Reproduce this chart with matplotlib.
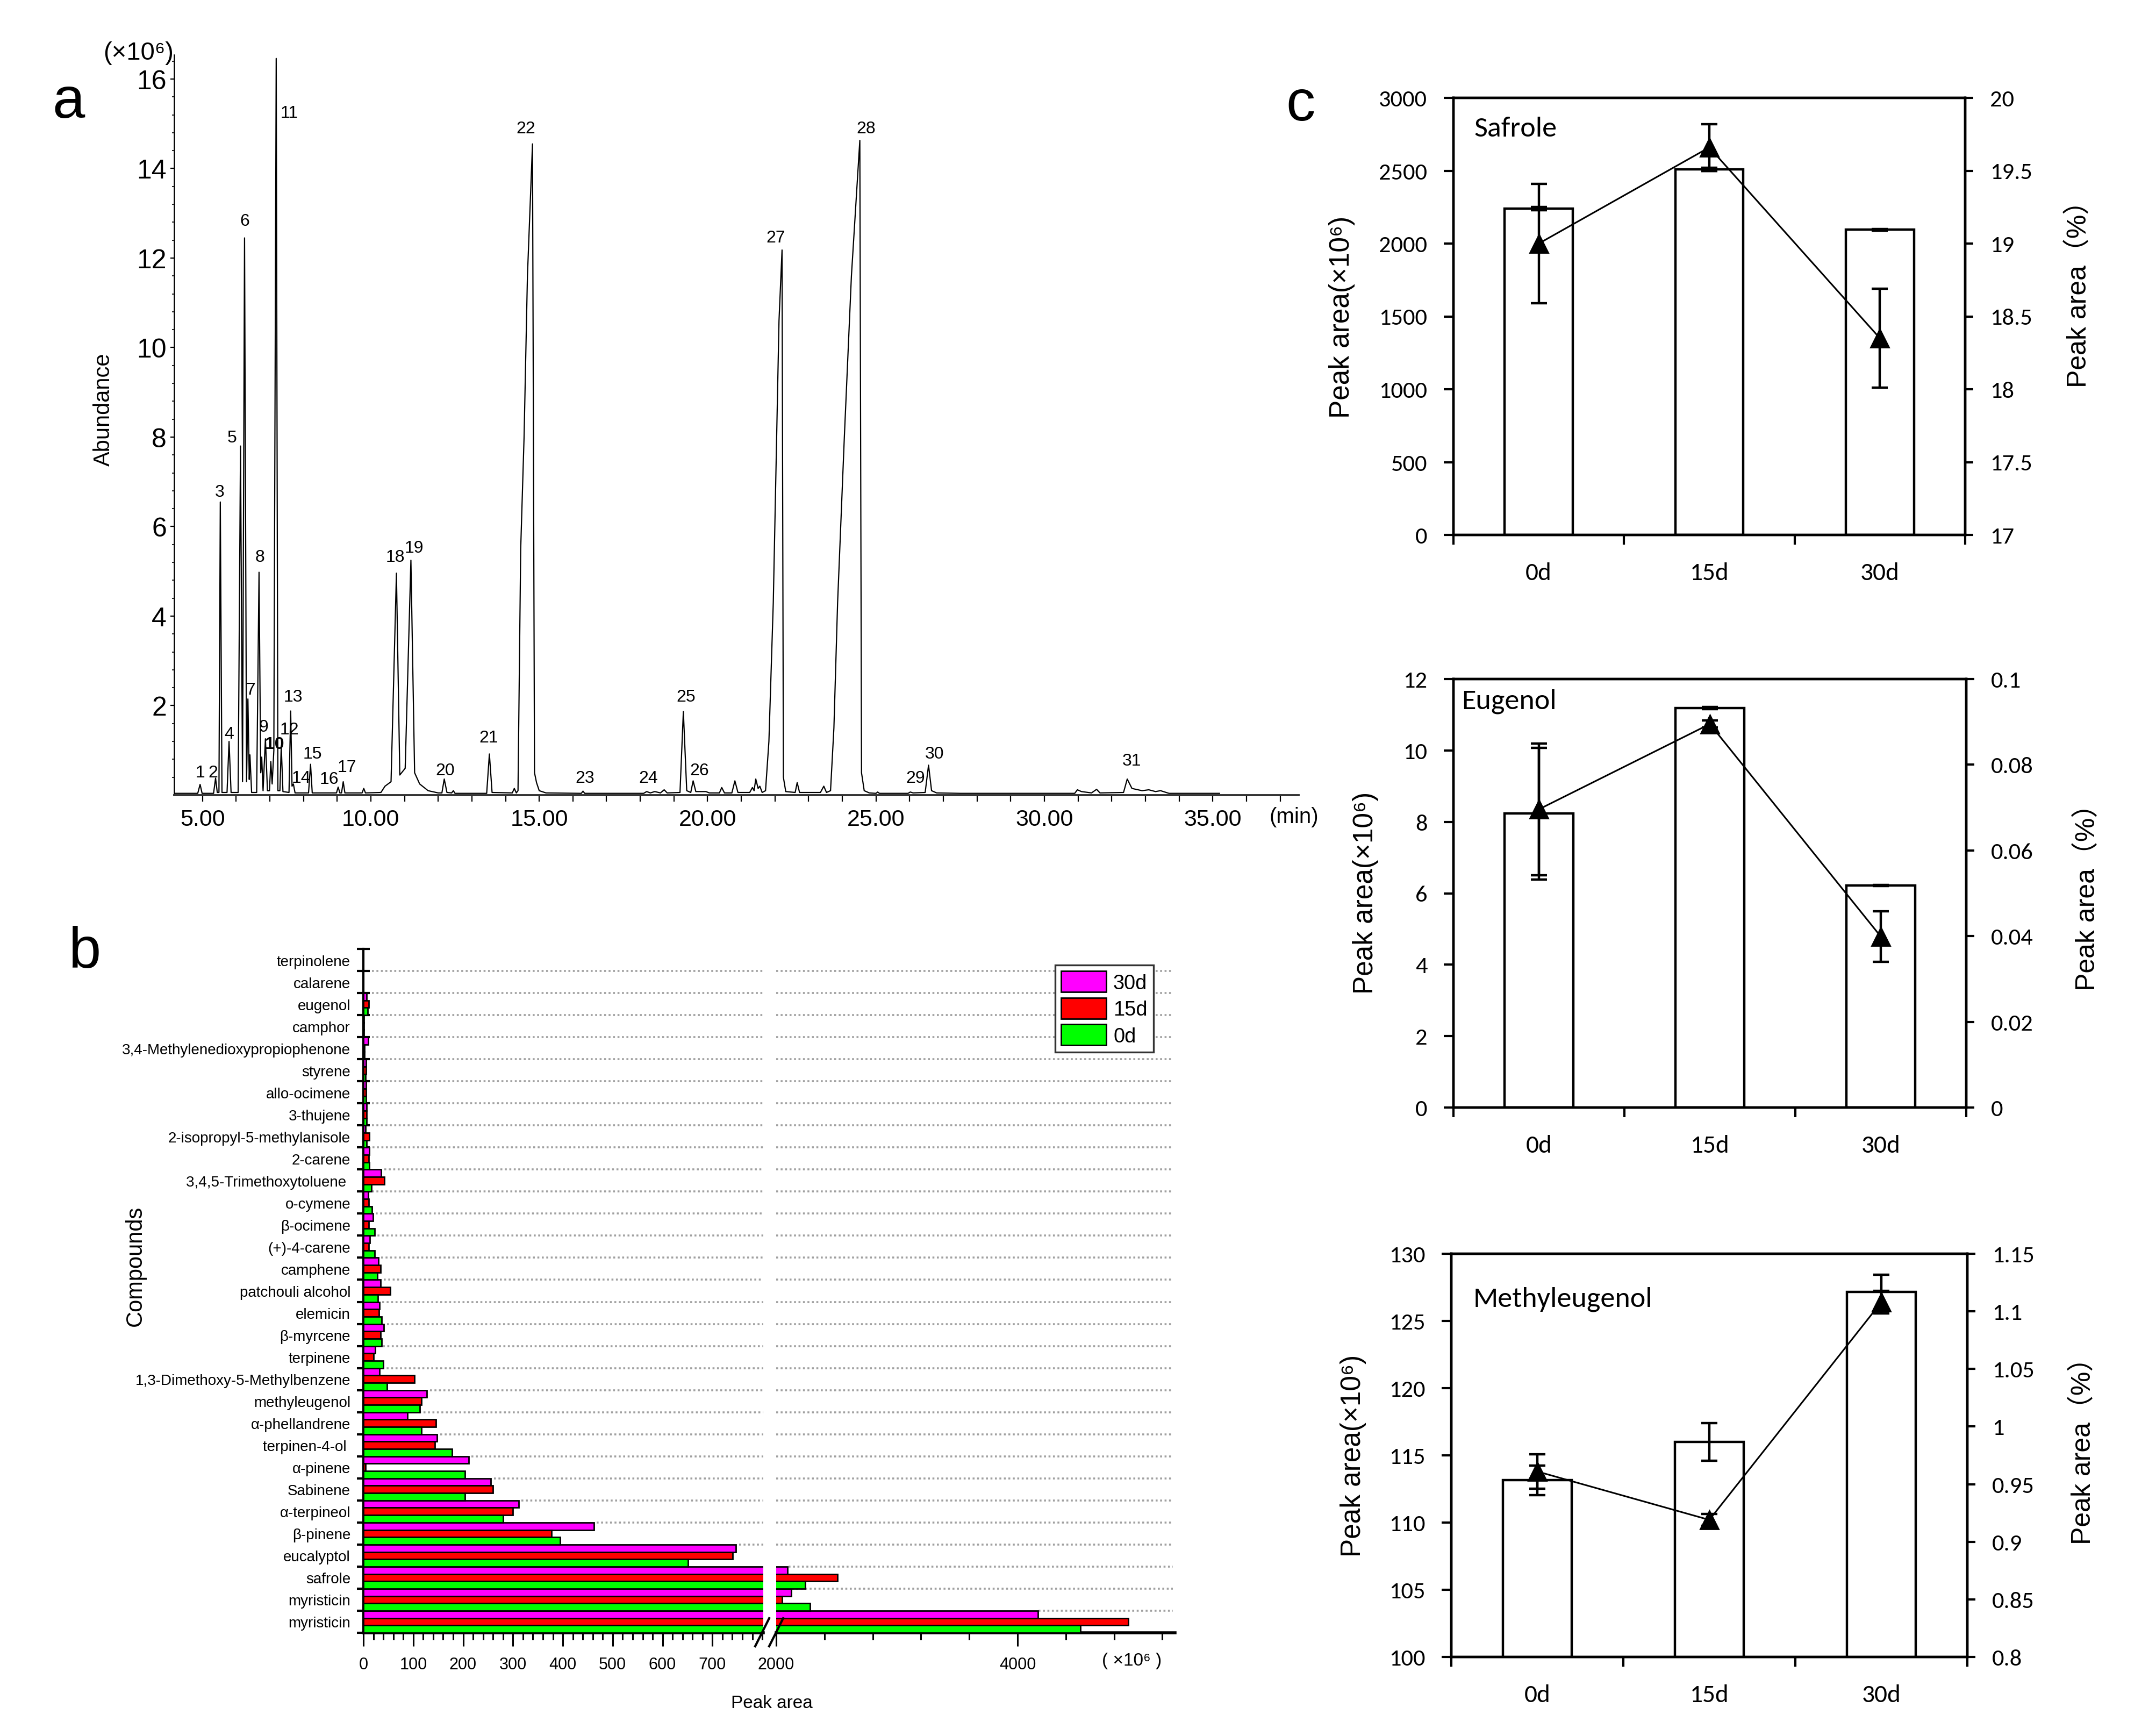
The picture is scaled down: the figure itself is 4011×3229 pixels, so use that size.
import numpy as np
import matplotlib
matplotlib.use('Agg')
import matplotlib.pyplot as plt
from matplotlib import font_manager
from matplotlib.lines import Line2D
from matplotlib.patches import Patch

# ---- a: chromatogram, vertices (min, abundance x10^6)
trace_min = [4.16, 4.86, 4.93, 4.99, 5.33, 5.39, 5.44, 5.49, 5.53, 5.58,
             5.73, 5.79, 5.85, 6.06, 6.13, 6.19, 6.25, 6.31, 6.35, 6.39,
             6.41, 6.46, 6.61, 6.68, 6.73, 6.76, 6.80, 6.87, 6.93, 6.99,
             7.03, 7.07, 7.12, 7.19, 7.24, 7.30, 7.34, 7.39, 7.57, 7.62,
             7.66, 7.70, 7.75, 8.15, 8.21, 8.26, 8.98, 9.03, 9.08, 9.13,
             9.18, 9.23, 9.74, 9.79, 9.84, 10.30, 10.42, 10.60, 10.76, 10.86,
             11.02, 11.19, 11.30, 11.45, 11.70, 12.00, 12.11, 12.18, 12.26, 12.40,
             12.45, 12.50, 13.44, 13.52, 13.60, 14.20, 14.26, 14.32, 14.37, 14.45,
             14.55, 14.65, 14.80, 14.86, 14.92, 15.00, 15.20, 16.25, 16.30, 16.35,
             18.10, 18.19, 18.30, 18.43, 18.60, 18.71, 18.80, 19.18, 19.28, 19.38,
             19.50, 19.57, 19.65, 19.95, 20.05, 20.35, 20.42, 20.50, 20.72, 20.81,
             20.90, 21.25, 21.33, 21.38, 21.43, 21.50, 21.55, 21.62, 21.72, 21.82,
             21.95, 22.05, 22.12, 22.21, 22.25, 22.32, 22.60, 22.66, 22.73, 23.35,
             23.45, 23.53, 23.65, 23.75, 23.86, 24.06, 24.27, 24.52, 24.57, 24.65,
             24.80, 25.00, 25.05, 25.10, 25.95, 26.02, 26.10, 26.46, 26.56, 26.65,
             26.80, 27.50, 30.90, 30.98, 31.10, 31.40, 31.55, 31.65, 32.35, 32.46,
             32.60, 32.90, 33.10, 33.30, 33.45, 33.70, 35.20]
trace_abund = [0.04, 0.04, 0.24, 0.04, 0.04, 0.38, 0.06, 0.06, 6.55, 0.06,
               0.06, 1.20, 0.06, 0.06, 7.80, 0.30, 12.45, 0.30, 2.15, 0.35,
               0.90, 0.06, 0.06, 4.98, 0.50, 0.85, 0.10, 1.26, 0.10, 0.10,
               0.75, 0.25, 1.00, 16.46, 0.10, 0.10, 1.10, 0.08, 0.06, 1.88,
               0.20, 0.25, 0.05, 0.05, 0.69, 0.05, 0.05, 0.18, 0.05, 0.05,
               0.30, 0.05, 0.05, 0.15, 0.05, 0.06, 0.20, 0.30, 4.96, 0.45,
               0.60, 5.25, 0.50, 0.25, 0.10, 0.05, 0.05, 0.36, 0.06, 0.05,
               0.10, 0.04, 0.04, 0.92, 0.06, 0.05, 0.15, 0.05, 0.10, 5.50,
               8.00, 11.60, 14.55, 0.50, 0.28, 0.10, 0.05, 0.04, 0.09, 0.04,
               0.04, 0.08, 0.05, 0.08, 0.05, 0.12, 0.05, 0.06, 1.87, 0.10,
               0.06, 0.32, 0.08, 0.08, 0.05, 0.05, 0.17, 0.05, 0.05, 0.32,
               0.06, 0.06, 0.17, 0.10, 0.36, 0.15, 0.20, 0.06, 0.10, 1.20,
               4.30, 8.00, 10.60, 12.18, 0.40, 0.08, 0.06, 0.28, 0.06, 0.06,
               0.20, 0.06, 0.10, 1.50, 4.30, 8.00, 11.60, 14.63, 0.50, 0.10,
               0.05, 0.04, 0.07, 0.04, 0.04, 0.07, 0.05, 0.06, 0.67, 0.10,
               0.05, 0.04, 0.04, 0.12, 0.08, 0.05, 0.13, 0.05, 0.06, 0.36,
               0.15, 0.10, 0.12, 0.08, 0.10, 0.04, 0.04]
peak_no = [str(i) for i in range(1, 32)]

# ---- b: peak areas (x10^6), compounds listed top to bottom
compounds = ['terpinolene', 'calarene', 'eugenol', 'camphor',
             '3,4-Methylenedioxypropiophenone', 'styrene', 'allo-ocimene',
             '3-thujene', '2-isopropyl-5-methylanisole', '2-carene',
             '3,4,5-Trimethoxytoluene ', 'o-cymene', 'β-ocimene', '(+)-4-carene',
             'camphene', 'patchouli alcohol', 'elemicin', 'β-myrcene', 'terpinene',
             '1,3-Dimethoxy-5-Methylbenzene', 'methyleugenol', 'α-phellandrene',
             'terpinen-4-ol ', 'α-pinene', 'Sabinene', 'α-terpineol', 'β-pinene',
             'eucalyptol', 'safrole', 'myristicin', 'myristicin']
area_30d = [0.5, 0.5, 6.2, 1, 10, 5, 5, 6, 4, 12, 36, 10, 19, 13, 30, 35, 32,
            41, 24, 32, 127.2, 88, 148, 211, 256, 311, 462, 747, 2095, 2123, 4168]
area_15d = [0.5, 0.5, 11.2, 1, 2, 5, 5, 6, 12, 11, 42, 11, 11, 11, 35, 54, 31,
            34, 20, 102, 116.0, 145, 143, 4, 260, 300, 377, 741, 2510, 2050, 4918]
area_0d = [0.5, 0.5, 8.2, 1, 2, 4, 5, 7, 7, 12, 16, 17, 23, 23, 28, 29, 37,
           37, 40, 47, 113.2, 116, 178, 204, 204, 280, 394, 651, 2240, 2282, 4523]
series_names = ['30d', '15d', '0d']
series_colors = ['#ff00ff', '#ff0000', '#00ff00']

# ---- c: single compounds, bar = peak area (x10^6), line = relative area (%)
days = ['0d', '15d', '30d']
safrole_area = [2240, 2510, 2095]
safrole_area_err = [12, 12, 5]
safrole_pct = [19.0, 19.66, 18.35]
safrole_pct_err = [0.41, 0.16, 0.34]
eugenol_area = [8.23, 11.18, 6.22]
eugenol_area_err = [1.85, 0.03, 0.02]
eugenol_pct = [0.0696, 0.0895, 0.0399]
eugenol_pct_err = [0.0154, 0.0008, 0.0059]
methyl_area = [113.15, 116.0, 127.16]
methyl_area_err = [1.1, 1.4, 1.3]
methyl_pct = [0.961, 0.919, 1.108]
methyl_pct_err = [0.015, 0.005, 0.0096]

names = {f.name for f in font_manager.fontManager.ttflist}


def pick(*cands):
    for c in cands:
        if c in names:
            return c
    return 'DejaVu Sans'


SANS = pick('Liberation Sans', 'Arimo', 'DejaVu Sans')
CAL = pick('Carlito', 'Lato', 'Open Sans')
plt.rcParams['font.family'] = [SANS, 'DejaVu Sans']

W, H = 4012, 3230
DPI = 200


def rect(l, t, r, b):
    return [l / W, 1 - b / H, (r - l) / W, (b - t) / H]


def fx(x):
    return x / W


def fy(y):
    return 1 - y / H


fig = plt.figure(figsize=(W / DPI, H / DPI), dpi=DPI)

# ================= panel a =================
axa = fig.add_axes(rect(324, 103, 2416, 1480))
axa.plot(trace_min, trace_abund, color='black', lw=0.8)
axa.set_xlim(4.16, 37.55)
axa.set_ylim(0, 16.54)
for s in ('top', 'right'):
    axa.spines[s].set_visible(False)
axa.spines['left'].set_linewidth(0.9)
axa.spines['bottom'].set_linewidth(1.4)
axa.spines['bottom'].set_color('#333333')
axa.set_xticks(np.arange(5, 36, 5))
axa.set_xticklabels([f'{v:.2f}' for v in np.arange(5, 36, 5)])
axa.set_xticks(np.arange(5, 38, 1), minor=True)
axa.set_yticks(np.arange(2, 17, 2))
axa.set_yticks(np.arange(0.4, 16.5, 0.4), minor=True)
axa.tick_params(axis='x', which='both', direction='out', length=4.4, width=0.8,
                pad=4.5, labelsize=15.5)
axa.tick_params(axis='y', which='major', direction='out', length=2.5, width=0.8,
                pad=2.5, labelsize=18)
axa.tick_params(axis='y', which='minor', direction='out', length=1.3, width=0.6)

lab_x = [4.93, 5.31, 5.51, 5.79, 5.87, 6.25, 6.43, 6.71, 6.81, 7.14, 7.58, 7.58,
         7.70, 7.93, 8.26, 8.76, 9.29, 10.73, 11.29, 12.21, 13.50, 14.60, 16.35,
         18.24, 19.36, 19.76, 22.03, 24.70, 26.18, 26.74, 32.59]
lab_y = [0.51, 0.51, 6.77, 1.37, 7.99, 12.83, 2.36, 5.32, 1.53, 1.14, 15.24, 1.47,
         2.20, 0.39, 0.92, 0.36, 0.62, 5.32, 5.53, 0.55, 1.29, 14.90, 0.39,
         0.39, 2.20, 0.55, 12.46, 14.90, 0.39, 0.92, 0.77]
for n, x, y in zip(peak_no, lab_x, lab_y):
    axa.text(x, y, n, ha='center', va='center', fontsize=11.5,
             fontweight='bold' if n == '10' else 'normal')

fig.text(fx(193), fy(762), 'Abundance', rotation=90, ha='center', va='center',
         fontsize=15)
fig.text(fx(258), fy(99), '(×10⁶)', ha='center', va='center', fontsize=17,
         family=[SANS, 'DejaVu Sans'])
fig.text(fx(2407), fy(1520), '(min)', ha='center', va='center', fontsize=14.5)
fig.text(fx(128), fy(219), 'a', ha='center', va='baseline', fontsize=39)

# ================= panel b =================
LEFT_MAX, RIGHT_MIN, RIGHT_MAX = 802, 2000, 5305
axl = fig.add_axes(rect(676, 1766, 1420, 3038))
axr = fig.add_axes(rect(1444, 1766, 2186, 3038))
n = len(compounds)
ypos = np.arange(n)[::-1]          # bottom compound at 0
series = [area_30d, area_15d, area_0d]
offs = [5 / 6, 0.5, 1 / 6]
for ax in (axl, axr):
    for vals, col, off in zip(series, series_colors, offs):
        ax.barh(ypos + off, vals, height=1 / 3, color=col, edgecolor='black',
                linewidth=1.0, zorder=3)
    ax.set_ylim(0, n)

# dotted separators start where each group's top (30d) bar ends
for i, v in zip(ypos, area_30d):
    if i == n - 1:
        continue
    start = max(v + 6, 17)
    kw = dict(colors='#a0a0a0', linestyles=(0, (1, 1.3)), linewidth=1.3, zorder=1)
    if start < LEFT_MAX:
        axl.hlines(i + 1, start, LEFT_MAX, **kw)
        axr.hlines(i + 1, RIGHT_MIN, 5285, **kw)
    else:
        axr.hlines(i + 1, max(start, RIGHT_MIN), 5285, **kw)

axl.set_xlim(0, LEFT_MAX)
axr.set_xlim(RIGHT_MIN, RIGHT_MAX)
for s in ('top', 'right'):
    axl.spines[s].set_visible(False)
for s in ('top', 'right', 'left'):
    axr.spines[s].set_visible(False)
axl.spines['left'].set_linewidth(1.5)
axl.spines['bottom'].set_linewidth(2.0)
axr.spines['bottom'].set_linewidth(2.0)

axl.set_yticks(np.arange(0, n + 1))
axl.set_yticklabels([])
axl.set_yticks(ypos + 0.5, minor=True)
axl.set_yticklabels(compounds, minor=True)
axl.tick_params(axis='y', which='major', direction='inout', length=8.3, width=1.5)
axl.tick_params(axis='y', which='minor', length=0, pad=8.6, labelsize=10)
axr.tick_params(axis='y', which='both', left=False, labelleft=False)

axl.set_xticks(np.arange(0, 701, 100))
axl.set_xticks(np.arange(0, 801, 20), minor=True)
axr.set_xticks([2000, 4000])
axr.set_xticks(np.arange(2400, 5300, 400), minor=True)
for ax in (axl, axr):
    ax.tick_params(axis='x', which='major', direction='out', length=9, width=1.1,
                   pad=7, labelsize=11)
    ax.tick_params(axis='x', which='minor', direction='out', length=4.7, width=1.1)

# axis break marks
for x0 in (1405, 1431):
    fig.add_artist(Line2D([fx(x0), fx(x0 + 26)], [fy(3063), fy(3011)],
                          color='black', lw=1.5))

handles = [Patch(facecolor=c, edgecolor='black', linewidth=1.0) for c in series_colors]
leg = axr.legend(handles, series_names, loc='upper left',
                 bbox_to_anchor=(fx(1963), fy(1796)), bbox_transform=fig.transFigure,
                 borderaxespad=0, fancybox=False, framealpha=1, fontsize=13.7,
                 handlelength=2.2, handleheight=1.2, labelspacing=0.24,
                 handletextpad=0.34, borderpad=0.3)
leg.get_frame().set_edgecolor('#333333')
leg.get_frame().set_linewidth(1.2)

fig.text(fx(252), fy(2355), 'Compounds', rotation=90, ha='center', va='center',
         fontsize=15)
fig.text(fx(1436), fy(3169), 'Peak area', ha='center', va='center', fontsize=12)
fig.text(fx(2106), fy(3090), '( ×10⁶ )', ha='center', va='center', fontsize=12,
         family=[SANS, 'DejaVu Sans'])
fig.text(fx(157), fy(1800), 'b', ha='center', va='baseline', fontsize=39)


# ================= panel c =================
def panel_c(box, area, area_err, pct, pct_err, lim_a, step_a, lim_p, step_p,
            name, name_xy, ylab_l, ylab_r):
    ax = fig.add_axes(rect(*box))
    x = np.arange(len(days))
    ax.bar(x, area, 0.4, yerr=area_err, color='white', edgecolor='black',
           linewidth=1.6, zorder=2,
           error_kw=dict(ecolor='black', elinewidth=1.6, capsize=5.5, capthick=1.6))
    ax.set_xlim(-0.5, 2.5)
    ax.set_ylim(*lim_a)
    yt = np.round(np.arange(lim_a[0], lim_a[1] + step_a / 2, step_a), 4)
    ax.set_yticks(yt)
    ax.set_yticklabels([f'{v:g}' for v in yt])
    ax.set_xticks([-0.5, 0.5, 1.5, 2.5])
    ax.set_xticklabels([])
    ax.set_xticks(x, minor=True)
    ax.set_xticklabels(days, minor=True)
    ax.tick_params(axis='x', which='major', direction='out', length=6.3, width=1.5)
    ax.tick_params(axis='x', which='minor', length=0, pad=18, labelsize=17,
                   labelfontfamily=CAL)
    ax.tick_params(axis='y', direction='out', length=6.5, width=1.5, pad=11,
                   labelsize=16, labelfontfamily=CAL)
    for s in ax.spines.values():
        s.set_linewidth(1.6)

    ax2 = ax.twinx()
    ax2.errorbar(x, pct, yerr=pct_err, color='black', lw=1.1, marker='^', ms=12,
                 capsize=5.5, elinewidth=1.6, capthick=1.6, zorder=4)
    ax2.set_ylim(*lim_p)
    pt = np.round(np.arange(lim_p[0], lim_p[1] + step_p / 2, step_p), 4)
    ax2.set_yticks(pt)
    ax2.set_yticklabels([f'{v:g}' for v in pt])
    ax2.tick_params(axis='y', direction='out', length=5.5, width=1.5, pad=11,
                    labelsize=16, labelfontfamily=CAL)
    for s in ax2.spines.values():
        s.set_linewidth(1.6)

    ax.text(name_xy[0], name_xy[1], name, transform=ax.transAxes, ha='left',
            va='center', fontsize=19.5, family=CAL)
    fig.text(fx(ylab_l[0]), fy(ylab_l[1]), 'Peak area(×10⁶)', rotation=90,
             ha='center', va='center', fontsize=18.5, family=[SANS, 'DejaVu Sans'])
    fig.text(fx(ylab_r[0]), fy(ylab_r[1]), 'Peak area（%）', rotation=90,
             ha='center', va='center', fontsize=18,
             family=[SANS, 'Noto Sans CJK SC', 'DejaVu Sans'])


panel_c((2704, 183, 3656, 996), safrole_area, safrole_area_err, safrole_pct,
        safrole_pct_err, (0, 3000), 500, (17, 20), 0.5, 'Safrole', (0.04, 0.93),
        (2497, 590), (3867, 535))
panel_c((2704, 1264, 3658, 2061), eugenol_area, eugenol_area_err, eugenol_pct,
        eugenol_pct_err, (0, 12), 2, (0, 0.1), 0.02, 'Eugenol', (0.016, 0.949),
        (2541, 1661), (3883, 1657))
panel_c((2700, 2333, 3660, 3083), methyl_area, methyl_area_err, methyl_pct,
        methyl_pct_err, (100, 130), 5, (0.8, 1.15), 0.05, 'Methyleugenol',
        (0.042, 0.888), (2518, 2708), (3875, 2687))

fig.text(fx(2420), fy(224), 'c', ha='center', va='baseline', fontsize=39)

fig.savefig('out.png', dpi=DPI)
